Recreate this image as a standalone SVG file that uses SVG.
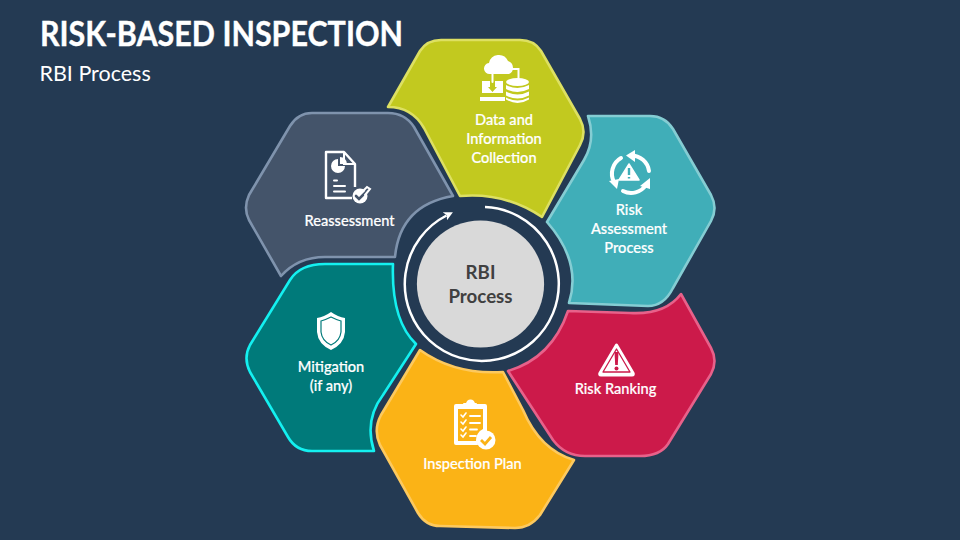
<svg xmlns="http://www.w3.org/2000/svg" width="960" height="540" viewBox="0 0 960 540">
<style>
text{font-family:Lato,"Open Sans",sans-serif;fill:#fff;text-anchor:middle}
.lb{font-size:14.6px;font-weight:500;stroke:#fff;stroke-width:.2px}
.seg{stroke-width:2.6;stroke-linejoin:round}
.ic{fill:#fff}
.l{fill:none;stroke:#fff;stroke-linecap:round}
</style>
<defs>
<marker id="ah" viewBox="0 0 5 5" markerUnits="userSpaceOnUse" markerWidth="9" markerHeight="9" refX="1" refY="2.5" orient="auto"><path d="M0,0L5,2.5L0,5L1.2,2.5Z" fill="#fff"/></marker>
</defs>
<rect width="960" height="540" fill="#243A53"/>
<text x="40" y="46" style="font-size:33.5px;font-weight:700;text-anchor:start;stroke:#fff;stroke-width:.4px" textLength="363" lengthAdjust="spacingAndGlyphs">RISK-BASED INSPECTION</text>
<text x="39.500" y="81" style="font-size:21.500px;text-anchor:start">RBI Process</text>

<g id="node-reassessment">
<path class="seg" fill="#44546A" stroke="#7F93AD" d="M312,113L388,113Q405,113 414,127L453,196Q400,205 395,257L325,257Q298,257 281,276L249,220Q243,208 249,195L290,126Q298,113 312,113Z"/>
<path fill="none" stroke="#fff" stroke-width="2.400" stroke-linejoin="round" d="M355,187V164L344,152H326V198H352"/>
<path fill="none" stroke="#fff" stroke-width="2" d="M344,152V164H355"/>
<path class="ic" d="M338,159a7,7 0 1 0 7,7h-7Z"/><path class="ic" d="M340,157a7,7 0 0 1 7,7h-7Z"/>
<path class="l" stroke-width="2" d="M334,180.500H337M334,186H345M334,191.500H345"/>
<circle cx="360" cy="196" r="7.500" class="ic"/>
<path class="l" stroke-width="2.600" d="M356,196l3,3l7,-7" style="stroke:#44546A"/>
<path class="l" stroke-width="2" d="M362,192l5,-5l3,2l-5,6"/>
<text class="lb" x="349.500" y="226">Reassessment</text>
</g>

<g id="node-data">
<path class="seg" fill="#C2C91F" stroke="#DDE062" d="M388,107L420,51Q427,40 441,40L520,40Q534,40 541,51L580,119Q587,132 580,145L542,217Q505,192 460,196L424,128Q412,107 388,107Z"/>
<path class="ic" d="M490,74a5.500,5.500 0 0 1 -1,-11a10,10 0 0 1 19,-2a7,7 0 0 1 1,13Z"/>
<path class="l" stroke-width="2" d="M505,69H518.500V79"/>
<path class="ic" d="M482,81H490V87H488L492.500,92L497,87H495V81H503V93H482Z"/>
<path class="l" stroke-width="2" d="M492.500,74V82"/>
<rect x="480" y="97" width="25" height="4" class="ic"/>
<ellipse cx="517.500" cy="82" rx="11.500" ry="4" class="ic"/>
<path class="ic" d="M506,85q11.500,6 23,0v4q-11.500,6 -23,0ZM506,91.500q11.500,6 23,0v4q-11.500,6 -23,0ZM506,97.500q11.500,6 23,0v2q-11.500,7 -23,0Z"/>
<text class="lb" x="504" y="125">Data and</text>
<text class="lb" x="504" y="144">Information</text>
<text class="lb" x="504" y="163">Collection</text>
</g>

<g id="node-assessment">
<path class="seg" fill="#40AEB8" stroke="#85CDD3" d="M588,116L650,116Q665,116 673,129L711,195Q718,208 711,221L673,288Q664,306 648,306L569,303Q582,262 547,222L584,160Q596,140 588,116Z"/>
<path class="l" stroke-width="4" d="M631,155.500A18,18 0 0 1 649,171"/>
<path class="ic" d="M635,150L626,155.500L635,162Z"/>
<path class="l" stroke-width="4" d="M646,185A18,18 0 0 1 623,191"/>
<path class="ic" d="M650,178L650,189L640,186Z"/>
<path class="l" stroke-width="4" d="M614,182A18,18 0 0 1 621,158"/>
<path class="ic" d="M609,181L619,179L617,189Z"/>
<path class="ic" stroke="#fff" stroke-width="1.500" stroke-linejoin="round" d="M629,164L639,180H619Z"/>
<path d="M629,168V175M629,177V178.500" stroke="#40AEB8" stroke-width="2.400" fill="none"/>
<text class="lb" x="629" y="215">Risk</text>
<text class="lb" x="629" y="234">Assessment</text>
<text class="lb" x="629" y="253">Process</text>
</g>

<g id="node-ranking">
<path class="seg" fill="#CC1A4A" stroke="#E8618A" d="M681,294L711,348Q718,361 711,374L668,444Q660,456 640,456L585,456Q565,456 553,440L508,371Q552,358 568,311L630,313Q665,315 681,294Z"/>
<path class="ic" stroke="#fff" stroke-width="3" stroke-linejoin="round" d="M616.500,345L633,373Q634,375 632,375H601Q599,375 600,373Z"/>
<path fill="none" stroke="#CC1A4A" stroke-width="1.300" stroke-linejoin="round" d="M616.500,349L630,372H603Z"/>
<path fill="#CC1A4A" d="M614.500,352H618.500L617.800,365H615.200Z"/><circle cx="616.500" cy="368.500" r="2" fill="#CC1A4A"/>
<text class="lb" x="615.500" y="394">Risk Ranking</text>
</g>

<g id="node-plan">
<path class="seg" fill="#FBB316" stroke="#FDC95E" d="M420,350Q455,375 503,372L523,410Q540,450 574,460L540,515Q530,528 515,528L440,526Q426,526 418,513L380,445Q373,430 381,415Z"/>
<path class="ic" fill-rule="evenodd" d="M456,404H466A4.500,4.500 0 0 1 475,404H485Q487,404 487,406V431A11,11 0 0 0 478,445H456Q454,445 454,443V406Q454,404 456,404ZM458,409V441H476A12,12 0 0 1 483,429V409Z"/>
<rect x="463" y="403" width="14" height="6" rx="1" class="ic"/>
<path class="l" stroke-width="1.600" d="M461,415l2,2l3,-4M461,422l2,2l3,-4M461,429l2,2l3,-4M461,435l2,2l3,-4"/>
<path class="l" stroke-width="1.800" d="M470,416H480M470,423H480M470,429.500H477M470,436H476"/>
<circle cx="486" cy="440" r="9.500" class="ic"/>
<path fill="none" stroke="#FBB316" stroke-width="2.800" d="M481,440l4,4l6,-7"/>
<text class="lb" x="472.500" y="469">Inspection Plan</text>
</g>

<g id="node-mitigation">
<path class="seg" fill="#007A7A" stroke="#14F0F0" d="M393,264L325,264Q300,264 290,280L250,345Q243,358 250,372L288,437Q296,451 312,451L374,451Q364,420 383,395L416,344Q391,320 393,264Z"/>
<path class="ic" d="M331,312Q338,317 345,318V332Q344,344 331,350Q318,344 317,332V318Q324,317 331,312Z"/>
<path fill="none" stroke="#007A7A" stroke-width="1.200" d="M331,317Q337,320 341,321V332Q340,341 331,345Q322,341 321,332V321Q325,320 331,317Z"/>
<text class="lb" x="331" y="372">Mitigation</text>
<text class="lb" x="331" y="391">(if any)</text>
</g>

<g id="node-center">
<circle cx="480.500" cy="284" r="63.600" fill="#D9D9D9"/>
<text x="480.500" y="279" style="font-size:18.700px;font-weight:700;fill:#404040">RBI</text>
<text x="480.500" y="303" style="font-size:18.700px;font-weight:700;fill:#404040">Process</text>
</g>

<g id="connectors">
<path fill="none" stroke="#fff" stroke-width="2.500" marker-end="url(#ah)" d="M485,207A77,77 0 1 1 446.500,215.500"/>
</g>
</svg>
